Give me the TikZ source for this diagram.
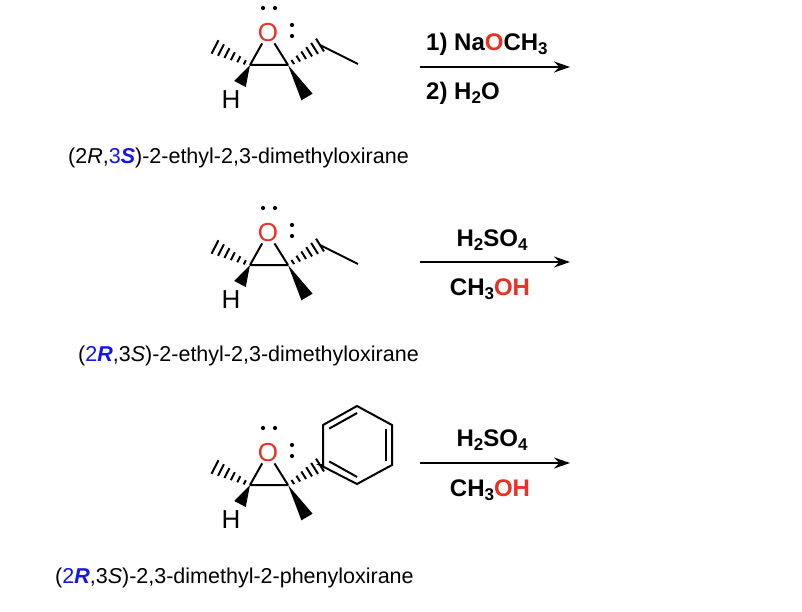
\documentclass[tikz,border=0pt]{standalone}
\usepackage{fontspec}
\setmainfont{Liberation Sans}
\usetikzlibrary{calc,arrows.meta}
\definecolor{ored}{RGB}{232,48,36}
\definecolor{sblue}{RGB}{20,20,235}
\newcommand\sbs[1]{\raisebox{-0.35ex}{\fontsize{17}{17}\selectfont #1}}
\tikzset{bond/.style={line width=2pt},
 atom/.style={font=\fontsize{26}{26}\selectfont,inner sep=1pt},
 oatom/.style={atom,text=ored},
 lp/.style={circle,fill=black,inner sep=0pt,minimum size=4.2pt},
 reag/.style={font=\bfseries\fontsize{24}{24}\selectfont,inner sep=0pt},
 molname/.style={font=\fontsize{21.5}{21.5}\selectfont,inner sep=0pt,anchor=west},
 rarrow/.style={line width=2pt,-{Stealth[length=16pt,width=11pt]}}}
\newcommand\hashb[2]{\foreach \t in {0,0.17,...,0.97}{\draw[line width=2pt] ($(#1)!\t!(#2)!{(1.5+6*(1-\t))*1pt}!90:(#2)$) -- ($(#1)!\t!(#2)!{(1.5+6*(1-\t))*1pt}!-90:(#2)$);}}
\newcommand\wedgeb[2]{\fill ($(#2)!6.5pt!90:(#1)$) -- (#1) -- ($(#2)!6.5pt!-90:(#1)$) -- cycle;}
\newcommand\epox[2]{%
 \begin{scope}[yshift=#2]
 \node[oatom] (O#1) at (268,33) {O};
 \node[lp] (la#1) at (263,8) {}; \node[lp] (lb#1) at (275,8) {};
 \node[lp] (lc#1) at (292,25) {}; \node[lp] (ld#1) at (292,36) {};
 \coordinate (A#1) at (250,65); \coordinate (B#1) at (288,65);
 \coordinate (M#1) at (215,47); \coordinate (W#1) at (240,84);
 \node[atom] (H#1) at (231,100) {H};
 \coordinate (R#1) at (320,45); \coordinate (N#1) at (307,97);
 \draw[bond] (A#1) -- (B#1) (A#1) -- (O#1) (B#1) -- (O#1);
 \hashb{M#1}{A#1}\hashb{R#1}{B#1}
 \wedgeb{A#1}{W#1}\wedgeb{B#1}{N#1}
 \end{scope}}
\begin{document}
\begin{tikzpicture}[x=1pt,y=-1pt]
\useasboundingbox (0,0) rectangle (802,612);
\epox{1}{0pt}
\coordinate (E1) at (358,64); \draw[bond] (R1) -- (E1);
\epox{2}{-200pt}
\coordinate (E2) at (358,264); \draw[bond] (R2) -- (E2);
\epox{3}{-420pt}
% phenyl
\coordinate (p0) at (323,465); \coordinate (p1) at (323,425); \coordinate (p2) at (357,406);
\coordinate (p3) at (392,425); \coordinate (p4) at (392,465); \coordinate (p5) at (357,484);
\coordinate (pc) at (357.5,445);
\draw[bond] (R3) -- (p0) -- (p1) -- (p2) -- (p3) -- (p4) -- (p5) -- cycle;
\draw[bond] ($(p1)!0.18!(pc)$) -- ($(p2)!0.18!(pc)$);
\draw[bond] ($(p3)!0.18!(pc)$) -- ($(p4)!0.18!(pc)$);
\draw[bond] ($(p5)!0.18!(pc)$) -- ($(p0)!0.18!(pc)$);
% arrows
\coordinate (a1) at (420,67); \coordinate (b1) at (570,67);
\draw[rarrow] (a1) -- (b1);
\node[reag,anchor=west] (r1) at (426,44) {1) Na\textcolor{ored}{O}CH\sbs{3}};
\node[reag,anchor=west] (r2) at (426,93) {2) H\sbs{2}O};
\coordinate (a2) at (420,262); \coordinate (b2) at (570,262);
\draw[rarrow] (a2) -- (b2);
\node[reag] (r3) at (492,240) {H\sbs{2}SO\sbs{4}};
\node[reag] (r4) at (490,289) {CH\sbs{3}\textcolor{ored}{OH}};
\coordinate (a3) at (420,463); \coordinate (b3) at (570,463);
\draw[rarrow] (a3) -- (b3);
\node[reag] (r5) at (492,440) {H\sbs{2}SO\sbs{4}};
\node[reag] (r6) at (490,490) {CH\sbs{3}\textcolor{ored}{OH}};
% names
\node[molname] (n1) at (68,158) {(2\textit{R},\textcolor{sblue}{3\textbf{\textit{S}}})-2-ethyl-2,3-dimethyloxirane};
\node[molname] (n2) at (78,356) {(\textcolor{sblue}{2\textbf{\textit{R}}},3\textit{S})-2-ethyl-2,3-dimethyloxirane};
\node[molname] (n3) at (55,578) {(\textcolor{sblue}{2\textbf{\textit{R}}},3\textit{S})-2,3-dimethyl-2-phenyloxirane};
\end{tikzpicture}
\end{document}
